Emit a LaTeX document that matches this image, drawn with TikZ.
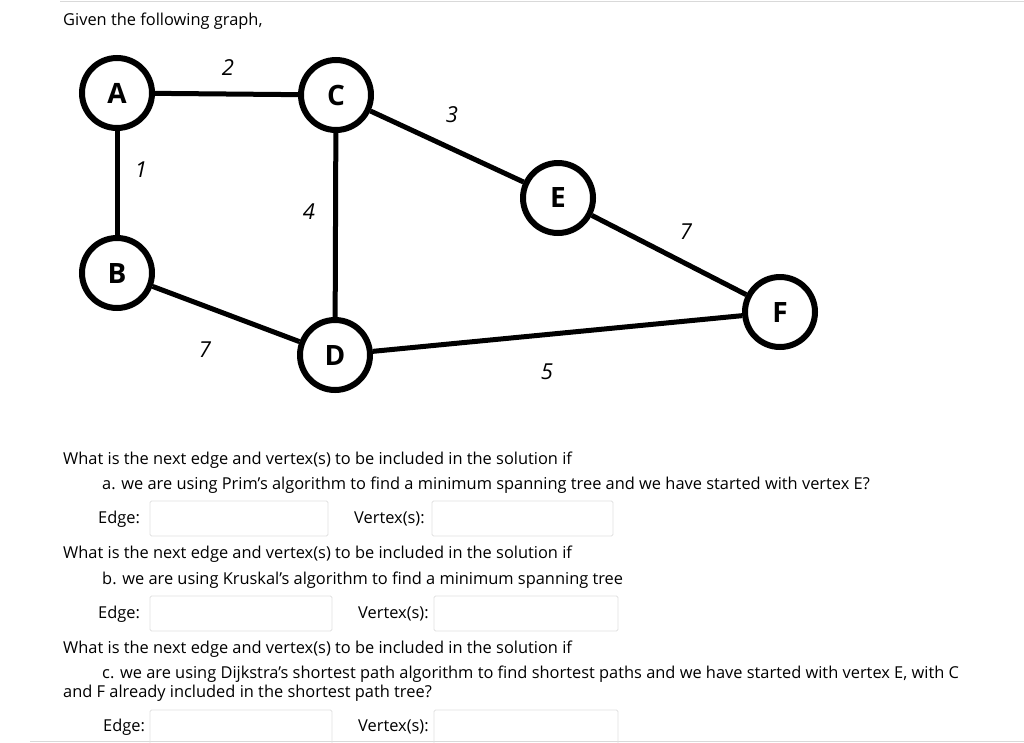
\documentclass[tikz,border=0pt]{standalone}
\usepackage{fontspec}
\setmainfont{Open Sans}
\begin{document}
\begin{tikzpicture}[x=1pt,y=-1pt,
 v/.style={circle,draw,line width=6pt,minimum size=70pt,inner sep=0pt,font=\bfseries\fontsize{28}{30}\selectfont},
 e/.style={line width=5pt},
 w/.style={font=\itshape\fontsize{22}{24}\selectfont},
 t/.style={anchor=west,font=\fontsize{16.4}{19}\selectfont,inner sep=0pt},
 box/.style={draw=black!12,line width=0.8pt,rounded corners=1.5pt}]
\useasboundingbox (0,0) rectangle (1024,742);
\draw[black!15] (60,1) -- (1024,1);
\draw[black!15] (30,741) -- (1024,741);
\node[t] (g) at (63,21) {Given the following graph,};
\node[v] (A) at (117,93) {A};
\node[v] (C) at (336,95) {C};
\node[v] (E) at (558,198) {E};
\node[v] (B) at (117,273) {B};
\node[v] (D) at (335,355) {D};
\node[v] (F) at (780,312) {F};
\draw[e] (A) -- (C);
\draw[e] (A) -- (B);
\draw[e] (C) -- (E);
\draw[e] (C) -- (D);
\draw[e] (E) -- (F);
\draw[e] (B) -- (D);
\draw[e] (D) -- (F);
\node[w] (w1) at (228,68) {2};
\node[w] (w2) at (141,170) {1};
\node[w] (w3) at (452,115) {3};
\node[w] (w4) at (309,212) {4};
\node[w] (w5) at (686,232) {7};
\node[w] (w6) at (205,350) {7};
\node[w] (w7) at (547,372) {5};
\node[t] (q1) at (63,460) {What is the next edge and vertex(s) to be included in the solution if};
\node[t] (q1a) at (102,485) {a. we are using Prim’s algorithm to find a minimum spanning tree and we have started with vertex E?};
\node[t] (e1) at (98,519) {Edge:};
\draw[box] (150,501) rectangle (328,536);
\node[t] (v1) at (354,519) {Vertex(s):};
\draw[box] (432,501) rectangle (613,536);
\node[t] (q2) at (63,554) {What is the next edge and vertex(s) to be included in the solution if};
\node[t] (q2a) at (102,580) {b. we are using Kruskal’s algorithm to find a minimum spanning tree};
\node[t] (e2) at (98,614) {Edge:};
\draw[box] (150,596) rectangle (332,631);
\node[t] (v2) at (358,614) {Vertex(s):};
\draw[box] (434,596) rectangle (618,631);
\node[t] (q3) at (63,649) {What is the next edge and vertex(s) to be included in the solution if};
\node[t] (q3a) at (102,674) {c. we are using Dijkstra’s shortest path algorithm to find shortest paths and we have started with vertex E, with C};
\node[t] (q3b) at (63,693) {and F already included in the shortest path tree?};
\node[t] (e3) at (103,727) {Edge:};
\draw[box] (150,710) rectangle (332,745);
\node[t] (v3) at (358,727) {Vertex(s):};
\draw[box] (434,710) rectangle (618,745);
\end{tikzpicture}
\end{document}
